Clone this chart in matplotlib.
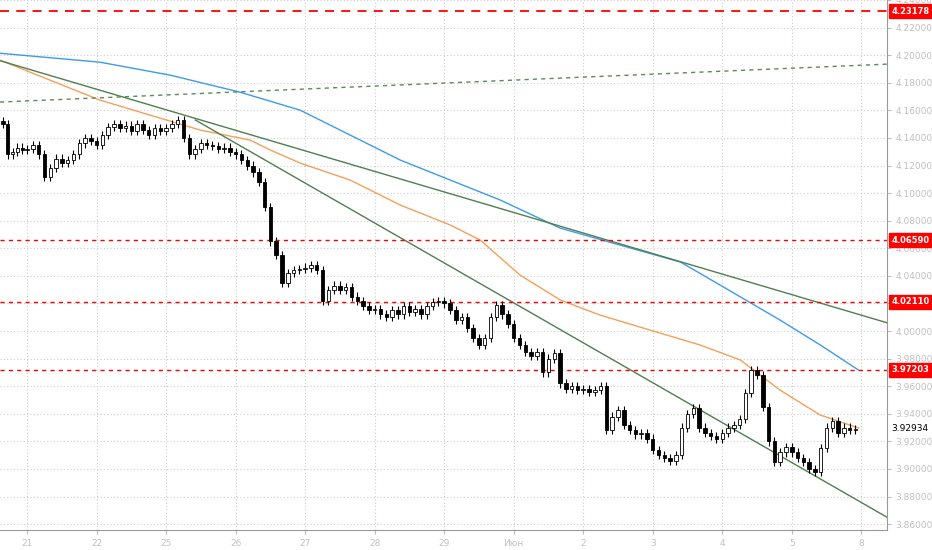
import matplotlib
matplotlib.use("Agg")
import matplotlib.pyplot as plt
from matplotlib.transforms import offset_copy, blended_transform_factory
import numpy as np

day_labels = ["21", "22", "25", "26", "27", "28", "29", "Июн", "2", "3", "4", "5", "8"]
closes = [
    4.150, 4.128, 4.130, 4.133, 4.131,
    4.132, 4.135, 4.128, 4.112, 4.118, 4.125, 4.122, 4.124, 4.128, 4.136, 4.140, 4.138,
    4.135, 4.142, 4.148, 4.150, 4.147, 4.149, 4.145, 4.150, 4.146, 4.142, 4.147, 4.145,
    4.147, 4.150, 4.153, 4.140, 4.128, 4.132, 4.136, 4.135, 4.134, 4.132, 4.133, 4.130,
    4.128, 4.124, 4.120, 4.115, 4.108, 4.090, 4.065, 4.055, 4.035, 4.042, 4.044, 4.045,
    4.046, 4.048, 4.044, 4.022, 4.030, 4.033, 4.030, 4.032, 4.025, 4.022, 4.018, 4.015,
    4.016, 4.012, 4.010, 4.015, 4.012, 4.018, 4.014, 4.016, 4.012, 4.018, 4.021, 4.022,
    4.020, 4.015, 4.008, 4.010, 4.002, 3.995, 3.990, 3.995, 4.010, 4.019, 4.012, 4.005,
    3.995, 3.990, 3.985, 3.982, 3.985, 3.970, 3.980, 3.984, 3.962, 3.958, 3.960, 3.957,
    3.958, 3.956, 3.957, 3.960, 3.928, 3.938, 3.943, 3.932, 3.928, 3.925, 3.926, 3.922,
    3.914, 3.910, 3.908, 3.906, 3.910, 3.930, 3.940, 3.944, 3.930, 3.926, 3.924, 3.922,
    3.926, 3.930, 3.932, 3.936, 3.955, 3.972, 3.968, 3.945, 3.920, 3.905, 3.912, 3.916,
    3.912, 3.908, 3.905, 3.900, 3.898, 3.915, 3.930, 3.935, 3.926, 3.930, 3.928, 3.929,
]
first_open = 4.152
wick = 0.003

blue_t = [-0.39, 1.05, 2.06, 3.06, 3.93, 4.65, 5.37, 6.09, 6.81, 7.67, 8.53, 9.40, 9.97, 10.83, 11.41, 11.96]
blue_v = [4.2014, 4.1949, 4.1855, 4.1732, 4.1601, 4.1420, 4.1239, 4.1094, 4.0949, 4.0746, 4.0623, 4.0500, 4.0333, 4.0080, 3.9899, 3.9717]
orange_t = [-0.39, 0.33, 1.05, 1.77, 2.49, 3.21, 3.50, 3.93, 4.65, 5.37, 6.09, 6.52, 7.09, 7.67, 8.24, 8.96, 9.68, 10.26, 10.83, 11.41, 11.96]
orange_v = [4.1964, 4.1819, 4.1674, 4.1565, 4.1457, 4.1384, 4.1312, 4.1217, 4.1094, 4.0913, 4.0768, 4.0659, 4.0406, 4.0225, 4.0116, 4.0007, 3.9899, 3.9790, 3.9572, 3.9391, 3.9297]
green1_t = [-0.39, 12.37]
green1_v = [4.196, 4.006]
green2_t = [2.42, 12.37]
green2_v = [4.153, 3.865]
dotted_t = [-0.39, 12.37]
dotted_v = [4.166, 4.1935]
levels = [4.23178, 4.06590, 4.02110, 3.97203]
last_price = 3.92934

fig = plt.figure(figsize=(9.32, 5.5), dpi=100)
ax = fig.add_axes([0, 0.036, 887/932, 0.964])
xmin, xmax = -0.39, 12.37
ax.set_xlim(xmin, xmax)
ax.set_ylim(3.8556, 4.24)

n = len(closes)
t = np.concatenate([xmin + 0.04 + np.arange(5) * 0.07, np.arange(n - 5) / 12.0])
opens = [first_open] + closes[:-1]
for ti, o, c in zip(t, opens, closes):
    ax.vlines(ti, min(o, c) - wick, max(o, c) + wick, color="black", lw=0.8, zorder=3)
    col = "white" if c >= o else "black"
    ax.bar(ti, max(abs(c - o), 0.0005), bottom=min(o, c), width=0.05,
           color=col, edgecolor="black", lw=0.6, zorder=4)

ax.plot(blue_t, blue_v, color="#3d9be9", lw=1, zorder=2)
ax.plot(orange_t, orange_v, color="#f5a05a", lw=1, zorder=2)
ax.plot(green1_t, green1_v, color="#4f7f4f", lw=1, zorder=2)
ax.plot(green2_t, green2_v, color="#4f7f4f", lw=1, zorder=2)
ax.plot(dotted_t, dotted_v, color="#5a8a5a", lw=1, ls=(0, (3, 3)), zorder=2)

tr = offset_copy(blended_transform_factory(ax.transAxes, ax.transData), fig=fig, x=3, y=0, units="points")
for i, lv in enumerate(levels):
    ax.axhline(lv, color="red", lw=1.3 if i == 0 else 1, ls=(0, (5, 4)) if i == 0 else (0, (3, 3)), zorder=2)
    ax.text(1.0, lv, f"{lv:.5f}", transform=tr, color="white", fontsize=6,
            fontweight="bold", va="center", ha="left", clip_on=False, zorder=10,
            bbox=dict(boxstyle="square,pad=0.3", fc="red", ec="red"))
ax.text(1.0, last_price, f"{last_price:.5f}", transform=tr, color="black", fontsize=6.5,
        va="center", ha="left", clip_on=False)

yt = np.arange(3.86, 4.2401, 0.02)
ax.set_yticks(yt)
ax.set_yticklabels([f"{v:.5f}" for v in yt])
ax.yaxis.tick_right()
ax.set_xticks(np.arange(len(day_labels)))
ax.set_xticklabels(day_labels)
ax.tick_params(colors="#bbbbbb", labelsize=6.5, length=3, pad=3)
ax.tick_params(axis="y", labelcolor="#c0c0c0")
ax.tick_params(axis="x", labelcolor="#c0c0c0")
ax.grid(True, color="#cccccc", ls=(0, (1, 2)), lw=0.8)
for s in ["top", "left"]:
    ax.spines[s].set_visible(False)
ax.spines["right"].set_color("#999999")
ax.spines["bottom"].set_color("#999999")
fig.savefig("out.png", dpi=100)
